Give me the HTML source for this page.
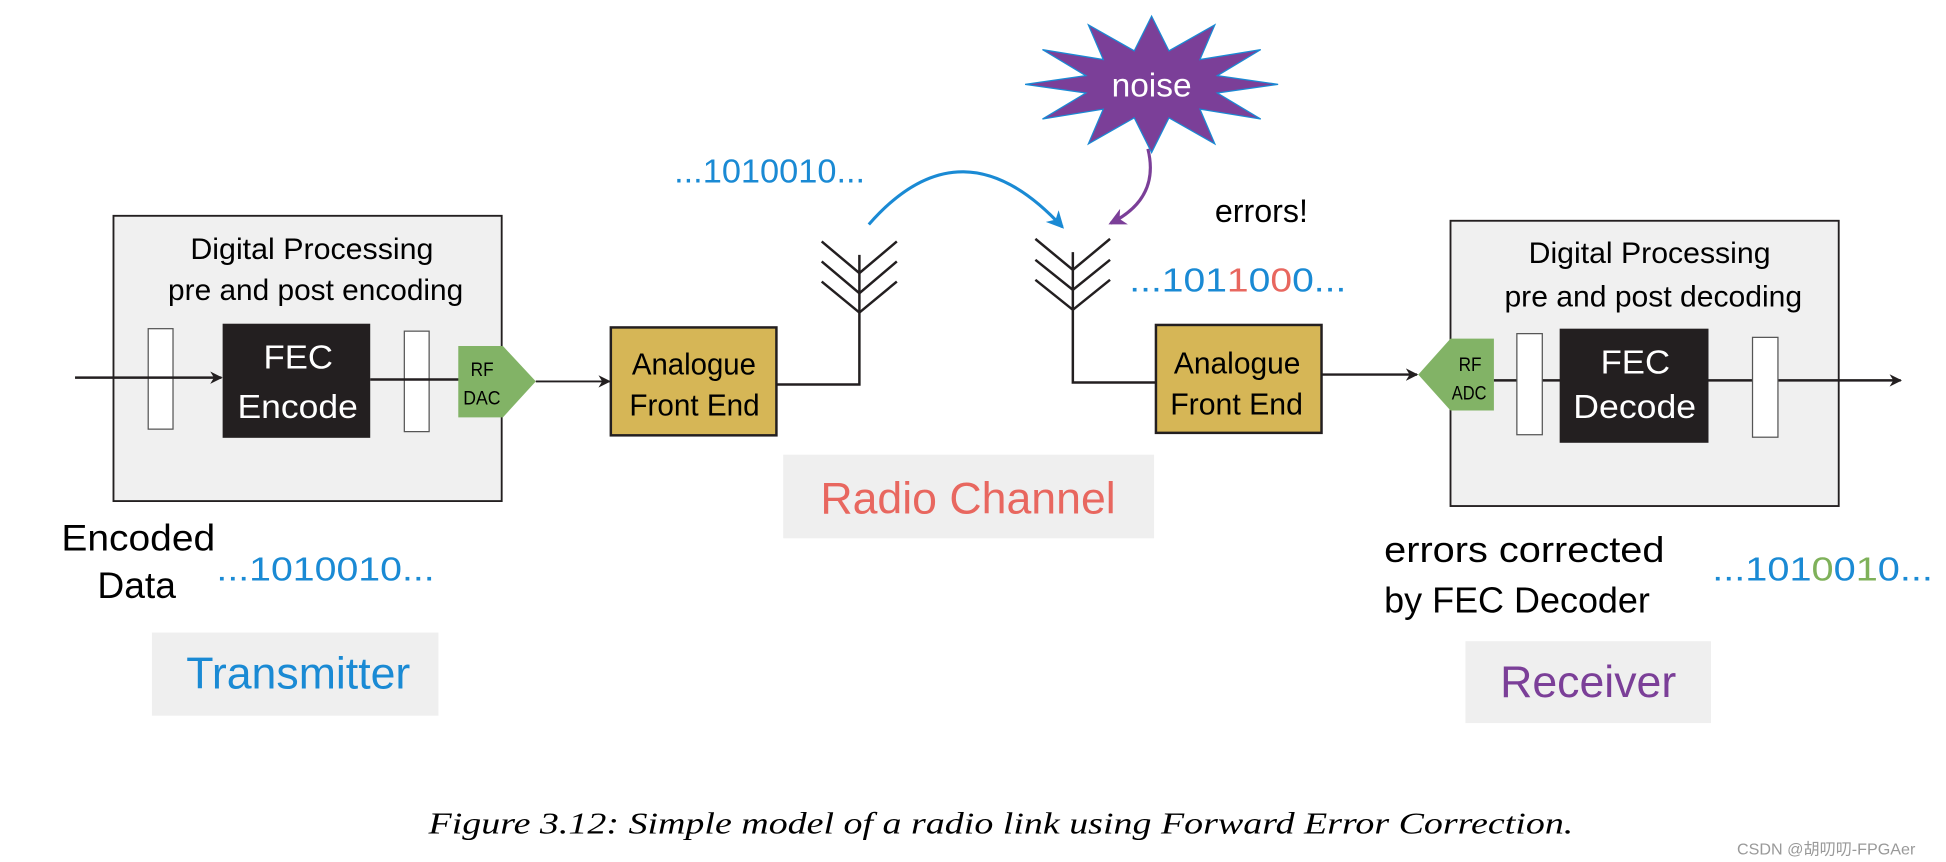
<!DOCTYPE html>
<html><head><meta charset="utf-8"><style>
html,body{margin:0;padding:0;background:#fff;}
svg{display:block;}
text{font-family:"Liberation Sans",Arial,sans-serif;}
</style></head><body>
<svg width="1946" height="862" viewBox="0 0 1568 695" xmlns="http://www.w3.org/2000/svg">
<defs>
<marker id="ab" markerWidth="10" markerHeight="10" refX="9" refY="5" orient="auto" markerUnits="userSpaceOnUse"><path d="M0,0 L10,5 L0,10 L3,5 Z" fill="#231f20"/></marker>
<marker id="ablue" markerWidth="14" markerHeight="14" refX="12" refY="7" orient="auto" markerUnits="userSpaceOnUse"><path d="M0,0 L14,7 L0,14 L4,7 Z" fill="#1a8ad4"/></marker>
<marker id="apur" markerWidth="14" markerHeight="14" refX="12" refY="7" orient="auto" markerUnits="userSpaceOnUse"><path d="M0,0 L14,7 L0,14 L4,7 Z" fill="#7b3f98"/></marker>
</defs>

<!-- Left box -->
<rect x="91" y="174" width="313" height="230" fill="#f0f0f0" stroke="#231f20" stroke-width="1.5"/>
<text x="153" y="209" font-size="24" textLength="196" lengthAdjust="spacingAndGlyphs">Digital Processing</text>
<text x="135" y="242" font-size="24" textLength="238" lengthAdjust="spacingAndGlyphs">pre and post encoding</text>
<rect x="119" y="265" width="20" height="81" fill="#fff" stroke="#555" stroke-width="1"/>
<rect x="325.5" y="267" width="20" height="81" fill="#fff" stroke="#555" stroke-width="1"/>
<line x1="60" y1="304.5" x2="178" y2="304.5" stroke="#231f20" stroke-width="2" marker-end="url(#ab)"/>
<rect x="179" y="261" width="119" height="92" fill="#231f20"/>
<text x="212" y="297" font-size="27" fill="#fff" textLength="56" lengthAdjust="spacingAndGlyphs">FEC</text>
<text x="191" y="337" font-size="27" fill="#fff" textLength="97" lengthAdjust="spacingAndGlyphs">Encode</text>
<line x1="298" y1="306" x2="370" y2="306" stroke="#231f20" stroke-width="2"/>
<polygon points="369,279 405,279 431.5,307.5 405,336.5 369,336.5" fill="#82b366"/>
<text x="379" y="303" font-size="16" textLength="18.5" lengthAdjust="spacingAndGlyphs">RF</text>
<text x="373" y="326" font-size="16" textLength="30" lengthAdjust="spacingAndGlyphs">DAC</text>
<line x1="431.5" y1="307.5" x2="491" y2="307.5" stroke="#231f20" stroke-width="1.5" marker-end="url(#ab)"/>

<!-- AFE1 -->
<rect x="492" y="264" width="133.5" height="87" fill="#d6b656" stroke="#231f20" stroke-width="2"/>
<text x="509" y="302" font-size="25" textLength="100" lengthAdjust="spacingAndGlyphs">Analogue</text>
<text x="507" y="335" font-size="25" textLength="105" lengthAdjust="spacingAndGlyphs">Front End</text>

<!-- Left antenna -->
<polyline points="625.5,310 692.4,310 692.4,205.5" fill="none" stroke="#231f20" stroke-width="2"/>
<g stroke="#231f20" stroke-width="2" fill="none">
<polyline points="662,194.7 692.4,220.2 722.6,194.7"/>
<polyline points="662,210.8 692.4,236.4 722.6,210.8"/>
<polyline points="662,227 692.4,252 722.6,227"/>
</g>

<!-- Right antenna -->
<polyline points="931,308.4 864.5,308.4 864.5,203.3" fill="none" stroke="#231f20" stroke-width="2"/>
<g stroke="#231f20" stroke-width="2" fill="none">
<polyline points="834.3,192.6 864.5,217.6 894.5,192.6"/>
<polyline points="834.3,209.5 864.5,233.7 894.5,209.5"/>
<polyline points="834.3,225.6 864.5,249.8 894.5,225.6"/>
</g>

<!-- arcs -->
<path d="M700,181 Q775,95 856,183" fill="none" stroke="#1a8ad4" stroke-width="2.5" marker-end="url(#ablue)"/>
<path d="M925,120 Q935,160 895,180" fill="none" stroke="#7b3f98" stroke-width="2.5" marker-end="url(#apur)"/>

<!-- noise star -->
<polygon points="1030,68 981,61 1016,40 967,48 979,20 942,41 928,13 914,41 877,20 889,48 840,40 875,61 826,68 875,75 840,96 889,88 877,116 914,95 928,123 942,95 979,116 967,88 1016,96 981,75" fill="#7b3f98" stroke="#1a8ad4" stroke-width="1"/>
<text x="928" y="78" font-size="27" fill="#fff" text-anchor="middle">noise</text>

<text x="543" y="147" font-size="27" fill="#1a8ad4" textLength="154" lengthAdjust="spacingAndGlyphs">...1010010...</text>
<text x="979" y="179" font-size="26" fill="#000">errors!</text>
<text x="910" y="235" font-size="27" fill="#1a8ad4" textLength="175" lengthAdjust="spacingAndGlyphs">...101<tspan fill="#e8675f">1</tspan>0<tspan fill="#e8675f">0</tspan>0...</text>

<!-- AFE2 -->
<rect x="931.5" y="262" width="133.5" height="87" fill="#d6b656" stroke="#231f20" stroke-width="2"/>
<text x="946" y="301" font-size="25" textLength="102" lengthAdjust="spacingAndGlyphs">Analogue</text>
<text x="943" y="334" font-size="25" textLength="107" lengthAdjust="spacingAndGlyphs">Front End</text>
<line x1="1065" y1="302" x2="1142" y2="302" stroke="#231f20" stroke-width="2" marker-end="url(#ab)"/>

<!-- Right box -->
<rect x="1169" y="178" width="313" height="230" fill="#f0f0f0" stroke="#231f20" stroke-width="1.5"/>
<text x="1232" y="212" font-size="24" textLength="195" lengthAdjust="spacingAndGlyphs">Digital Processing</text>
<text x="1212.5" y="247" font-size="24" textLength="240" lengthAdjust="spacingAndGlyphs">pre and post decoding</text>
<polygon points="1143,302 1169,273 1204,273 1204,331 1169,331" fill="#82b366"/>
<text x="1175.5" y="299" font-size="16" textLength="18.5" lengthAdjust="spacingAndGlyphs">RF</text>
<text x="1170" y="322" font-size="16" textLength="28" lengthAdjust="spacingAndGlyphs">ADC</text>
<line x1="1204" y1="306.7" x2="1532" y2="306.7" stroke="#231f20" stroke-width="2" marker-end="url(#ab)"/>
<rect x="1222.5" y="269" width="20.5" height="81.5" fill="#fff" stroke="#555" stroke-width="1"/>
<rect x="1257" y="265" width="120" height="92" fill="#231f20"/>
<text x="1290" y="301" font-size="27" fill="#fff" textLength="56" lengthAdjust="spacingAndGlyphs">FEC</text>
<text x="1268" y="337" font-size="27" fill="#fff" textLength="99" lengthAdjust="spacingAndGlyphs">Decode</text>
<rect x="1412.5" y="272" width="20.5" height="80.5" fill="#fff" stroke="#555" stroke-width="1"/>

<!-- labels -->
<rect x="631" y="366.6" width="299" height="67.4" fill="#efefef"/>
<text x="780" y="414" font-size="36" fill="#e8675f" text-anchor="middle">Radio Channel</text>
<rect x="122" y="510" width="231" height="67" fill="#efefef"/>
<text x="240" y="555" font-size="36" fill="#1a8ad4" text-anchor="middle">Transmitter</text>
<rect x="1181" y="517" width="198" height="66" fill="#efefef"/>
<text x="1280" y="562" font-size="36" fill="#7b3f98" text-anchor="middle">Receiver</text>

<text x="49" y="444" font-size="30" textLength="124" lengthAdjust="spacingAndGlyphs">Encoded</text>
<text x="78" y="482" font-size="30">Data</text>
<text x="174" y="468" font-size="27" fill="#1a8ad4" textLength="176" lengthAdjust="spacingAndGlyphs">...1010010...</text>

<text x="1115.5" y="453" font-size="29" textLength="226" lengthAdjust="spacingAndGlyphs">errors corrected</text>
<text x="1115.5" y="494" font-size="29">by FEC Decoder</text>
<text x="1380" y="468" font-size="27" fill="#1a8ad4" textLength="178" lengthAdjust="spacingAndGlyphs">...101<tspan fill="#7fb15a">0</tspan>0<tspan fill="#7fb15a">1</tspan>0...</text>

<text x="345" y="672" font-size="25" font-style="italic" style="font-family:'Liberation Serif',serif" textLength="923" lengthAdjust="spacingAndGlyphs">Figure 3.12:  Simple model of a radio link using Forward Error Correction.</text>
<text x="1400" y="689" font-size="13" fill="#999" style="font-family:'Liberation Sans','Noto Sans CJK SC',sans-serif">CSDN @胡叨叨-FPGAer</text>
</svg>
</body></html>
